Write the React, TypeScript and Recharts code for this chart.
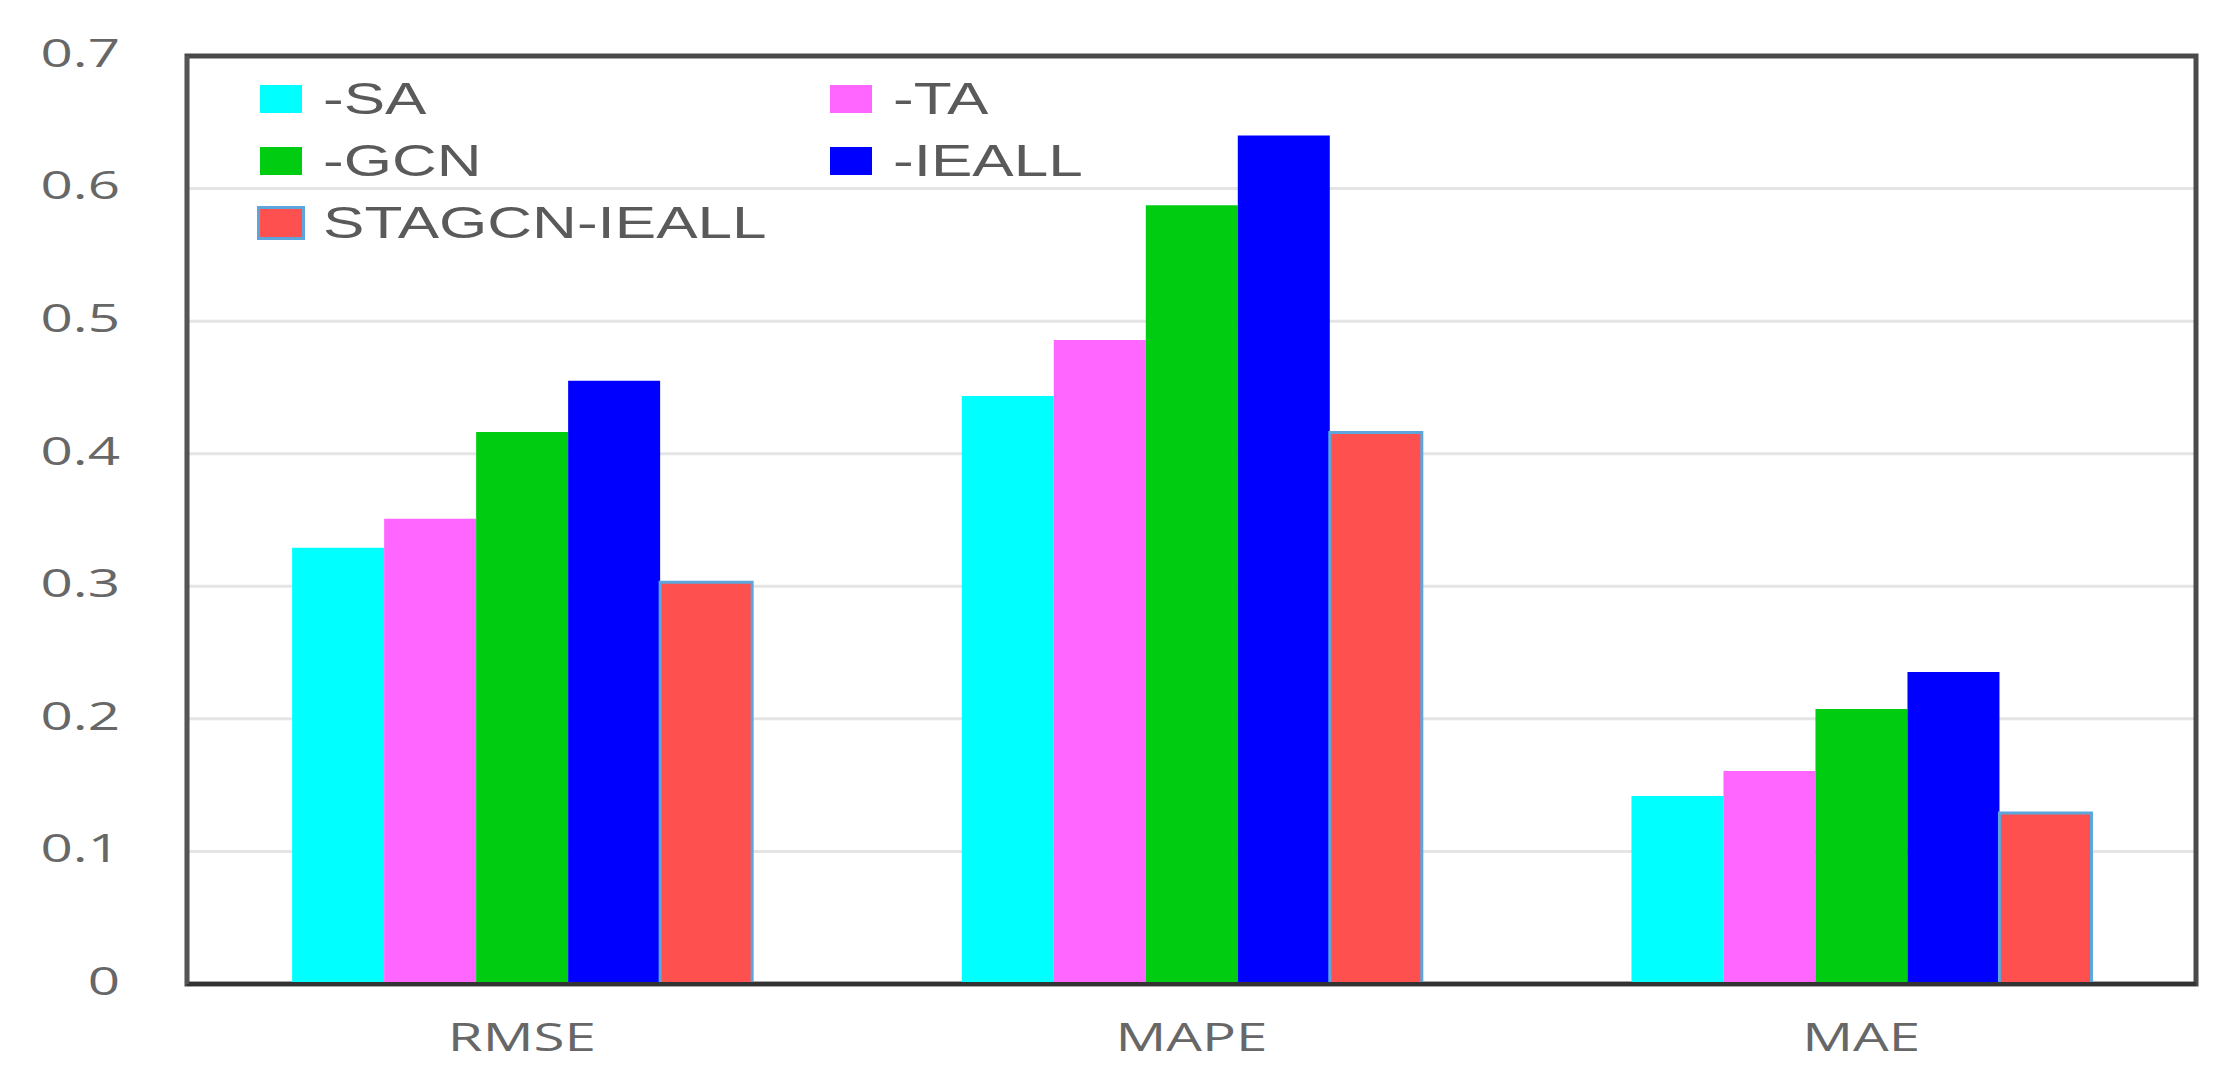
import { Bar, BarChart, CartesianGrid, Legend, ReferenceArea, XAxis, YAxis } from "recharts";

const metrics = ["RMSE", "MAPE", "MAE"];
const noSA = [0.329, 0.4435, 0.1418];
const noTA = [0.351, 0.4857, 0.1606];
const noGCN = [0.4164, 0.5875, 0.2074];
const noIEALL = [0.455, 0.64, 0.2353];
const stagcn = [0.303, 0.416, 0.129];
const yTicks = [0, 0.1, 0.2, 0.3, 0.4, 0.5, 0.6, 0.7];

const series = [
  { key: "sa", name: "-SA", values: noSA, color: "#00FFFF", stroke: "none" },
  { key: "ta", name: "-TA", values: noTA, color: "#FF66FF", stroke: "none" },
  { key: "gcn", name: "-GCN", values: noGCN, color: "#00CC11", stroke: "none" },
  { key: "ieall", name: "-IEALL", values: noIEALL, color: "#0000FF", stroke: "none" },
  { key: "stagcn", name: "STAGCN-IEALL", values: stagcn, color: "#FF5050", stroke: "#5DA5DA" },
];

const data = metrics.map((m, i) => {
  const row: Record<string, string | number> = { name: m };
  series.forEach((s) => (row[s.key] = s.values[i]));
  return row;
});

const tickStyle = { fill: "#676767", fontSize: 39, fontFamily: "'Open Sans', sans-serif" };

// the source figure is stretched sideways, so the text is widened to match
function YTick({ x, y, payload }: any) {
  return (
    <text
      x={0}
      y={0}
      dy="0.355em"
      textAnchor="end"
      transform={`translate(${x},${y - 3}) scale(1.45,1)`}
      {...tickStyle}
    >
      {payload.value}
    </text>
  );
}

function XTick({ x, y, payload }: any) {
  return (
    <text x={0} y={0} dy="0.71em" textAnchor="middle" transform={`translate(${x},${y}) scale(1.45,1)`} {...tickStyle}>
      {payload.value}
    </text>
  );
}

function LegendBox() {
  return (
    <div
      style={{
        display: "grid",
        gridTemplateColumns: "570px 420px",
        gridAutoRows: "62px",
        fontFamily: "'Liberation Sans', Arial, sans-serif",
        fontSize: 44,
        color: "#5a5a5a",
      }}
    >
      {series.map((s) => (
        <div key={s.key} style={{ display: "flex", alignItems: "center", whiteSpace: "nowrap" }}>
          <span
            style={{
              display: "inline-block",
              width: 42,
              height: 28,
              background: s.color,
              border: s.stroke === "none" ? "none" : `3px solid ${s.stroke}`,
              margin: s.stroke === "none" ? "0 21px 0 0" : "0 18px 0 -3px",
            }}
          />
          <span style={{ display: "inline-block", transform: "scaleX(1.41)", transformOrigin: "left center" }}>
            {s.name}
          </span>
        </div>
      ))}
    </div>
  );
}

export default function App() {
  return (
    <div style={{ position: "absolute", left: 0, top: 0, width: 2222, height: 1078, background: "#fff" }}>
      <BarChart
        width={2222}
        height={1078}
        data={data}
        margin={{ top: 56, right: 26, left: 0, bottom: 0 }}
        barCategoryGap="15.7%"
        barGap={0}
      >
        <CartesianGrid vertical={false} stroke="#e4e4e4" strokeWidth={3} />
        <XAxis
          dataKey="name"
          height={94}
          tick={<XTick />}
          tickLine={false}
          tickSize={0}
          tickMargin={39}
          axisLine={{ stroke: "#333", strokeWidth: 4 }}
        />
        <YAxis
          width={187}
          domain={[0, 0.7]}
          ticks={yTicks}
          interval={0}
          tick={<YTick />}
          tickLine={false}
          tickSize={0}
          tickMargin={67}
          axisLine={{ stroke: "#555", strokeWidth: 4 }}
        />
        <Legend
          layout="horizontal"
          verticalAlign="middle"
          align="center"
          content={() => <LegendBox />}
          wrapperStyle={{ position: "absolute", left: 260, top: 68, width: "auto" }}
        />
        {series.map((s) => (
          <Bar
            key={s.key}
            dataKey={s.key}
            name={s.name}
            fill={s.color}
            stroke={s.stroke}
            strokeWidth={s.stroke === "none" ? 0 : 3}
            isAnimationActive={false}
          />
        ))}
        <ReferenceArea y1={0} y2={0.7} fill="none" stroke="#4a4a4a" strokeWidth={5} ifOverflow="visible" />
      </BarChart>
    </div>
  );
}
